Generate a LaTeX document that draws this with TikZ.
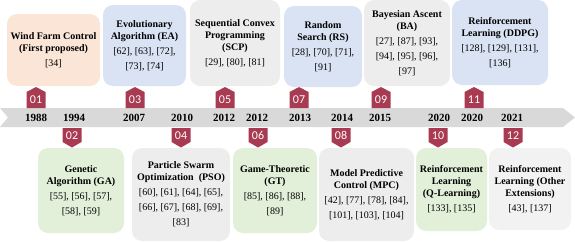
\documentclass[tikz,border=0pt]{standalone}
\usepackage{fontspec}
\setmainfont{Liberation Serif}
\newfontfamily\tagfont{Carlito}

\begin{document}
\begin{tikzpicture}[x=1pt, y=-1pt,
    card/.style={rounded corners=10pt, align=center, inner sep=2pt, font=\fontsize{10}{12}\selectfont},
    yearlabel/.style={font=\fontsize{11}{13}\selectfont\bfseries, inner sep=0pt},
    tagnum/.style={font=\tagfont\fontsize{12}{14}\selectfont, text=white, inner sep=0pt}]
    % Define colours
    \definecolor{peachFill}{HTML}{FBE5D6}
    \definecolor{blueFill}{HTML}{DAE3F3}
    \definecolor{greenFill}{HTML}{E2F0D9}
    \definecolor{greyFill}{HTML}{EDEDED}
    \definecolor{paleFill}{HTML}{F2F2F2}
    \definecolor{bandColour}{HTML}{D9D9D9}
    \definecolor{tagColour}{HTML}{A83A52}

    % Fix the picture size
    \useasboundingbox (0,0) rectangle (575,241);

    % Draw the timeline band
    \fill[bandColour] (0,108) -- (563,108) -- (575,117.5) -- (563,127) -- (0,127) -- (8,117.5) -- cycle;

    % Label the years
    \foreach \yx/\yr [count=\i] in {36/1988,74/1994,134/2007,182/2010,224/2012,257/2012,300/2013,342/2014,380/2015,439/2020,472/2020,512/2021}
        \node[yearlabel] (yr\i) at (\yx,117.5) {\yr};

    % Draw the upper markers
    \foreach \mx/\num in {36/01,135/03,225/05,299/07,381/09,474/11} {
        \fill[tagColour] (\mx-9.5,108) -- (\mx-9.5,92) -- (\mx,87) -- (\mx+9.5,92) -- (\mx+9.5,108) -- cycle;
        \node[tagnum] (m\num) at (\mx,99.5) {\num};
    }

    % Draw the lower markers
    \foreach \mx/\num in {72/02,181/04,258/06,341/08,438/10,513/12} {
        \fill[tagColour] (\mx-9.5,128) -- (\mx+9.5,128) -- (\mx+9.5,142) -- (\mx,147.5) -- (\mx-9.5,142) -- cycle;
        \node[tagnum] (m\num) at (\mx,135.5) {\num};
    }

    % Upper cards
    \node[card, fill=peachFill, minimum width=93pt, minimum height=72pt] (wfc) at (53.5,50)
        {\textbf{Wind Farm Control}\\\textbf{(First proposed)}\\[3pt][34]};
    \node[card, fill=blueFill, minimum width=83pt, minimum height=81pt] (ea) at (144.5,45.5)
        {\textbf{Evolutionary}\\\textbf{Algorithm (EA)}\\[3pt][62], [63], [72],\\[3pt][73], [74]};
    \node[card, fill=greyFill, minimum width=90pt, minimum height=86pt] (scp) at (235,43)
        {\textbf{Sequential Convex}\\\textbf{Programming}\\\textbf{(SCP)}\\[3pt][29], [80], [81]};
    \node[card, fill=blueFill, minimum width=78pt, minimum height=81pt] (rs) at (323,46.5)
        {\textbf{Random}\\\textbf{Search (RS)}\\[3pt][28], [70], [71],\\[3pt][91]};
    \node[card, fill=greyFill, minimum width=86pt, minimum height=86pt] (ba) at (407,43)
        {\textbf{Bayesian Ascent}\\\textbf{(BA)}\\[3pt][27], [87], [93],\\[3pt][94], [95], [96],\\[3pt][97]};
    \node[card, fill=blueFill, minimum width=96pt, minimum height=85pt] (ddpg) at (500,42.5)
        {\textbf{Reinforcement}\\\textbf{Learning (DDPG)}\\[3pt][128], [129], [131],\\[3pt][136]};

    % Lower cards
    \node[card, fill=greenFill, minimum width=86pt, minimum height=85pt] (ga) at (81,190.5)
        {\textbf{Genetic}\\\textbf{Algorithm (GA)}\\[3pt][55], [56], [57],\\[3pt][58], [59]};
    \node[card, fill=greyFill, minimum width=98pt, minimum height=93pt] (pso) at (181,194.5)
        {\textbf{Particle Swarm}\\\textbf{Optimization\ \ (PSO)}\\[3pt][60], [61], [64], [65],\\[3pt][66], [67], [68], [69],\\[3pt][83]};
    \node[card, fill=greenFill, minimum width=84pt, minimum height=85pt] (gt) at (275,190.5)
        {\textbf{Game-Theoretic}\\\textbf{(GT)}\\[3pt][85], [86], [88],\\[3pt][89]};
    \node[card, fill=greyFill, minimum width=95pt, minimum height=93pt] (mpc) at (366.5,194.5)
        {\textbf{Model Predictive}\\\textbf{Control (MPC)}\\[3pt][42], [77], [78], [84],\\[3pt][101], [103], [104]};
    \node[card, fill=greenFill, minimum width=71pt, minimum height=83pt] (ql) at (451.5,189.5)
        {\textbf{Reinforcement}\\\textbf{Learning}\\\textbf{(Q-Learning)}\\[3pt][133], [135]};
    \node[card, fill=paleFill, minimum width=82pt, minimum height=82pt] (rlo) at (530,189)
        {\textbf{Reinforcement}\\\textbf{Learning (Other}\\\textbf{Extensions)}\\[3pt][43], [137]};

\end{tikzpicture}
\end{document}
